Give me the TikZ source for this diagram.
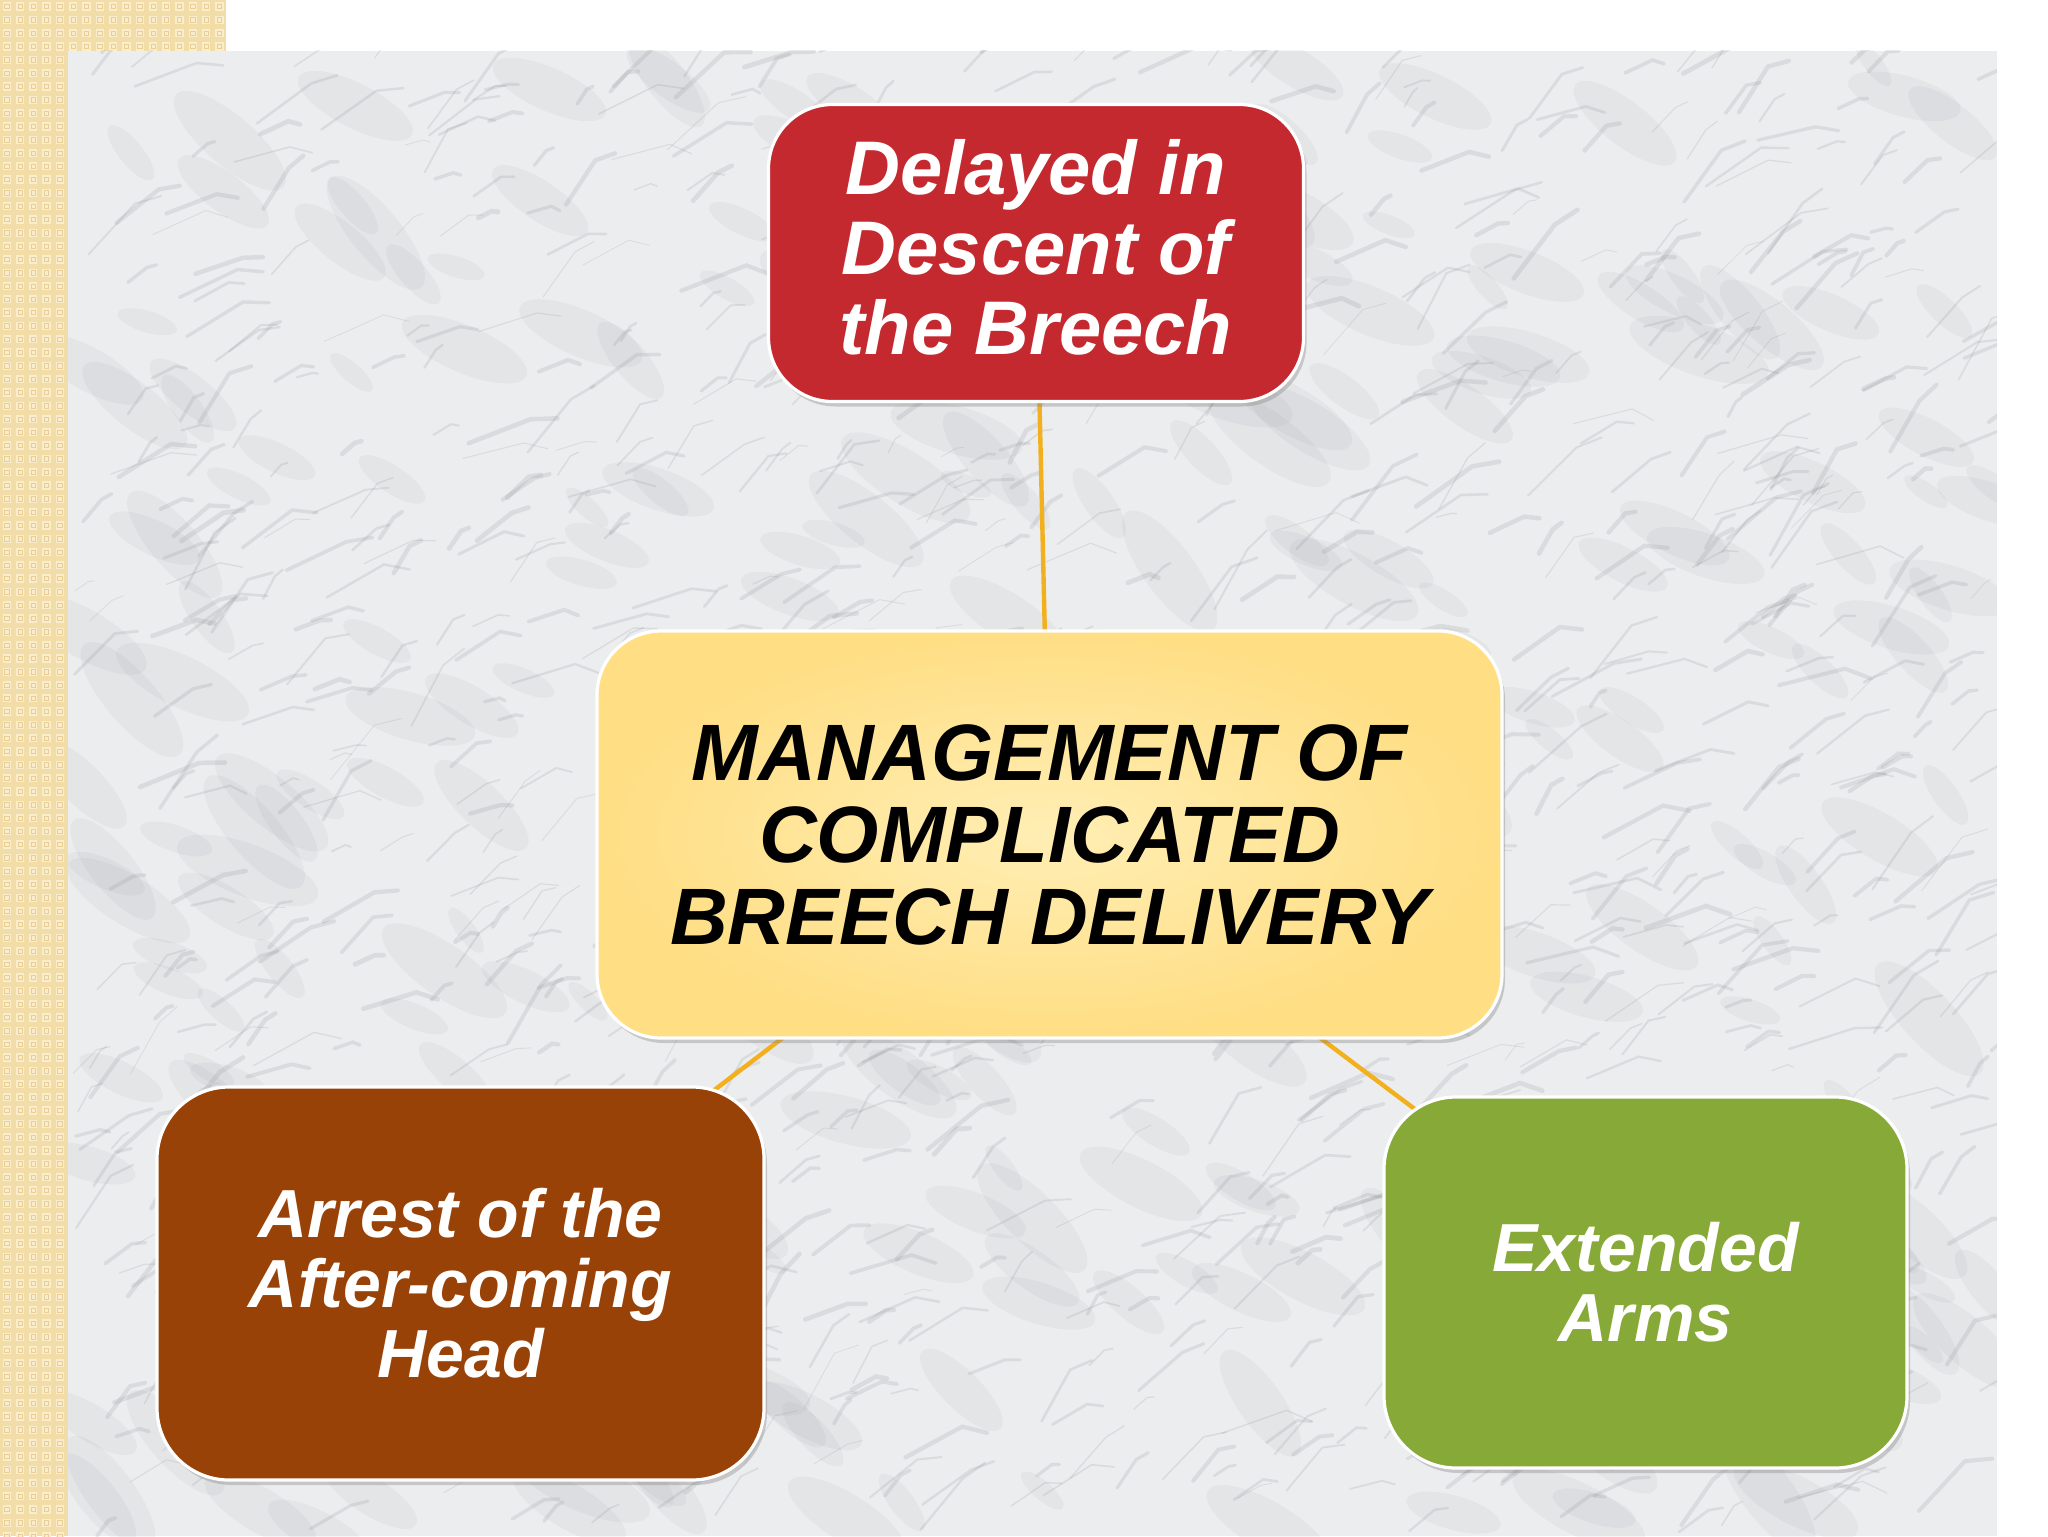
\documentclass[tikz,border=0pt]{standalone}
\usepackage{fontspec}
\setmainfont{Liberation Sans}
\usetikzlibrary{shadows}
\pgfdeclarelayer{bglayer}
\pgfdeclarelayer{connlayer}
\pgfsetlayers{bglayer,connlayer,main}
\definecolor{redbox}{HTML}{C4292F}
\definecolor{yelin}{HTML}{FFEEB4}
\definecolor{yelout}{HTML}{FFDE84}
\definecolor{brownbox}{HTML}{994208}
\definecolor{greenbox}{HTML}{87A937}
\definecolor{connorange}{HTML}{F2B01E}
\definecolor{marble}{HTML}{ECEDEF}
\definecolor{veincol}{HTML}{7E8186}
\definecolor{beige}{HTML}{F2DCA8}
\definecolor{beigelight}{HTML}{FAEDCC}
\begin{document}
\begin{tikzpicture}[x=0.5pt,y=-0.5pt,
  box/.style={rectangle, rounded corners=32pt, draw=white, line width=1.6pt,
    text=white, align=center, inner sep=0pt,
    drop shadow={opacity=0.35,shadow xshift=1.5pt,shadow yshift=-2.5pt}},
  bigfont/.style={font=\fontsize{38pt}{40pt}\selectfont\bfseries\itshape},
  midfont/.style={font=\fontsize{34pt}{35pt}\selectfont\bfseries\itshape},
  conn/.style={draw=connorange, line width=2.2pt}]
\useasboundingbox (0,0) rectangle (2048,1536);
\begin{pgfonlayer}{bglayer}
  \fill[white] (0,0) rectangle (2048,1536);
  \fill[beige] (0,0) rectangle (226,51);
  \fill[beige] (0,51) rectangle (68,1536);
  \foreach \i in {0,...,16}{\foreach \j in {0,...,3}{
    \fill[beigelight] (\i*13.3+2.5,\j*13.3+2.5) rectangle ++(8.3,8.3);
    \draw[beige!85!brown, line width=0.3pt] (\i*13.3+4.5,\j*13.3+4.5) rectangle ++(4.3,4.3);}}
  \foreach \i in {0,...,4}{\foreach \j in {4,...,115}{
    \fill[beigelight] (\i*13.3+2.5,\j*13.3+2.5) rectangle ++(8.3,8.3);
    \draw[beige!85!brown, line width=0.3pt] (\i*13.3+4.5,\j*13.3+4.5) rectangle ++(4.3,4.3);}}
  \fill[marble] (68,51) rectangle (1997,1536);
  \begin{scope}
    \clip (68,51) rectangle (1997,1536);
    \pgfmathsetseed{12}
    \foreach \k in {1,...,300}{
      \pgfmathsetmacro{\px}{68+1929*rnd}
      \pgfmathsetmacro{\py}{51+1485*rnd}
      \pgfmathsetmacro{\rr}{25+50*rnd}
      \pgfmathsetmacro{\ang}{-35+20*rand}
      \fill[veincol, opacity=0.07, rotate around={\ang:(\px,\py)}] (\px,\py) ellipse[x radius=\rr, y radius=0.35*\rr];
    }
    \foreach \k in {1,...,1100}{
      \pgfmathsetmacro{\px}{68+1929*rnd}
      \pgfmathsetmacro{\py}{51+1485*rnd}
      \pgfmathsetmacro{\ang}{-38+25*rand}
      \pgfmathsetmacro{\bend}{15*rand}
      \pgfmathsetmacro{\len}{15+55*rnd}
      \pgfmathsetmacro{\lw}{0.4+2.0*rnd}
      \draw[veincol, line width=\lw pt, opacity=0.16, line cap=round] (\px,\py) -- ++(\ang:\len) -- ++(\ang+\bend+30:0.4*\len);
    }
  \end{scope}
\end{pgfonlayer}

\node[box, fill=redbox, minimum width=267.5pt, minimum height=148.5pt, bigfont] (red) at (1036,253) {Delayed in\\Descent of\\the Breech\rule[-6pt]{0pt}{1pt}};
\node[box, inner color=yelin, outer color=yelout, text=black, minimum width=452.5pt, minimum height=203.5pt, font=\fontsize{40pt}{41pt}\selectfont\bfseries\itshape] (yellow) at (1049.5,834.5) {MANAGEMENT OF\\COMPLICATED\\BREECH DELIVERY};
\node[box, fill=brownbox, rounded corners=36pt, minimum width=303.5pt, minimum height=196.5pt, midfont] (brown) at (460.5,1283.5) {Arrest of the\\After-coming\\Head};
\node[box, fill=greenbox, rounded corners=36pt, minimum width=261.5pt, minimum height=185.5pt, midfont] (green) at (1645.5,1282.5) {Extended\\Arms};

\begin{pgfonlayer}{connlayer}
  \draw[conn] (red.center) -- (yellow.center);
  \draw[conn] (yellow.center) -- (brown.center);
  \draw[conn] (yellow.center) -- (green.center);
\end{pgfonlayer}
\end{tikzpicture}
\end{document}
